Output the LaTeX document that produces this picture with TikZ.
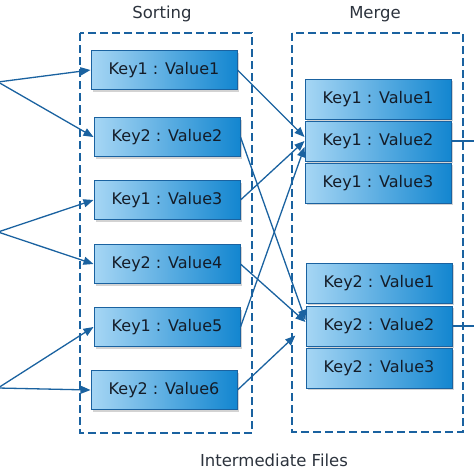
\documentclass[tikz,border=0pt]{standalone}
\usepackage{fontspec}
\setmainfont{DejaVu Sans}
\usetikzlibrary{arrows.meta, shadows}
\definecolor{lineblue}{HTML}{1A62A0}
\definecolor{boxlight}{HTML}{A6D6F4}
\definecolor{boxdark}{HTML}{1386D0}
\definecolor{textdark}{HTML}{141C28}

\tikzset{
	kvbox/.style={draw=lineblue, line width=1pt, left color=boxlight, right color=boxdark,
		minimum width=146pt, minimum height=39pt, inner sep=0pt, text=textdark,
		font=\fontsize{16}{19}\selectfont,
		drop shadow={shadow xshift=2pt, shadow yshift=-2pt, opacity=0.35}},
	stagebox/.style={draw=lineblue, line width=1.6pt, dash pattern=on 8pt off 4pt},
	link/.style={draw=lineblue, line width=1.3pt, -{Triangle[length=10pt, width=8pt]}},
	caption/.style={text=textdark!90, font=\fontsize{16.5}{19}\selectfont}
}

\begin{document}
\begin{tikzpicture}[x=1pt, y=-1pt]
		\useasboundingbox (0,0) rectangle (474,474);
		
		% Stages
		\draw[stagebox] (80,33) rectangle (252,433);
		\draw[stagebox] (292,33) rectangle (463,432);
		\node[caption] (sortlabel) at (162,14) {Sorting};
		\node[caption] (mergelabel) at (375,14) {Merge};
		\node[caption] (fileslabel) at (274,460) {Intermediate Files};
		
		% Inputs
		\coordinate (in1) at (-2,82);
		\coordinate (in2) at (-2,232);
		\coordinate (in3) at (-2,388);
		
		% Sorting
		\node[kvbox] (s1) at (164,70) {Key1 : Value1};
		\node[kvbox] (s2) at (167,137) {Key2 : Value2};
		\node[kvbox] (s3) at (167,200) {Key1 : Value3};
		\node[kvbox] (s4) at (167,264) {Key2 : Value4};
		\node[kvbox] (s5) at (167,327) {Key1 : Value5};
		\node[kvbox] (s6) at (164,390) {Key2 : Value6};
		
		% Merge
		\node[kvbox, minimum height=40pt] (m1) at (378,99) {Key1 : Value1};
		\node[kvbox, minimum height=40pt] (m2) at (378,141) {Key1 : Value2};
		\node[kvbox, minimum height=40pt] (m3) at (378,183) {Key1 : Value3};
		\node[kvbox, minimum height=40pt] (m4) at (379,283) {Key2 : Value1};
		\node[kvbox, minimum height=40pt] (m5) at (379,326) {Key2 : Value2};
		\node[kvbox, minimum height=40pt] (m6) at (379,368) {Key2 : Value3};
		
		% Outputs
		\coordinate (out1) at (480,141);
		\coordinate (out2) at (480,326);
		
		% Connections
		\draw[link] (in1) -- (s1.west);
		\draw[link] (in1) -- (s2.west);
		\draw[link] (in2) -- (s3.west);
		\draw[link] (in2) -- (s4.west);
		\draw[link] (in3) -- (s5.west);
		\draw[link] (in3) -- (s6.west);
		
		\draw[link] (s1.east) -- ([yshift=4pt]m2.west);
		\draw[link] (s3.east) -- (m2.west);
		\draw[link] (s5.east) -- ([yshift=-6pt]m2.west);
		\draw[link] (s2.east) -- ([yshift=6pt]m5.west);
		\draw[link] (s4.east) -- ([yshift=4pt]m5.west);
		\draw[link, shorten >=14pt] (s6.east) -- (m5.west);
		
		\draw[draw=lineblue, line width=1.3pt] (m2.east) -- (out1);
		\draw[draw=lineblue, line width=1.3pt] (m5.east) -- (out2);
	\end{tikzpicture}
\end{document}
